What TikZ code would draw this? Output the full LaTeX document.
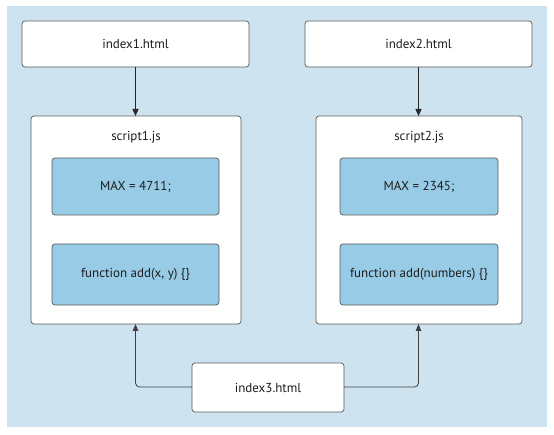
\documentclass[tikz,border=0pt]{standalone}
\usepackage{fontspec}
\setmainfont{PT Sans}
\usetikzlibrary{arrows.meta}
\definecolor{bgblue}{RGB}{205,227,240}
\definecolor{inblue}{RGB}{152,203,230}
\definecolor{edge}{RGB}{90,90,90}
\definecolor{txt}{RGB}{30,30,30}
\begin{document}
\begin{tikzpicture}[x=1pt,y=-1pt,
  box/.style={draw=edge,line width=0.7pt,rounded corners=3pt,fill=white},
  inbox/.style={draw=edge,line width=0.7pt,rounded corners=3pt,fill=inblue},
  lbl/.style={font=\fontsize{13}{15}\selectfont,text=txt},
  conn/.style={draw=black!85,line width=1.2pt,-{Triangle[length=7pt,width=6pt]}},
  elbow/.style={draw=black!75,line width=0.8pt,rounded corners=4pt,-{Triangle[length=7pt,width=5.5pt]}}]
\useasboundingbox (0,0) rectangle (554,435);
\fill[white] (0,0) rectangle (554,435);
\fill[bgblue] (7,6) rectangle (547,427);
% top html boxes
\draw[box] (22,21) rectangle (249,67);
\node[lbl] (i1) at (135.5,44) {index1.html};
\coordinate (i1b) at (135.5,67);
\draw[box] (305,21) rectangle (532,67);
\node[lbl] (i2) at (418.5,44) {index2.html};
\coordinate (i2b) at (418.5,67);
% script boxes
\draw[box] (31,116) rectangle (241,324);
\node[lbl] (s1) at (136,137) {script1.js};
\coordinate (s1t) at (135.5,116);
\coordinate (s1b) at (135.5,324);
\draw[inbox] (52,158) rectangle (219,215);
\node[lbl] (m1) at (135.5,186.5) {MAX = 4711;};
\draw[inbox] (52,244) rectangle (219,305);
\node[lbl] (f1) at (135.5,274.5) {function add(x, y) \{\}};
\draw[box] (316,116) rectangle (522,324);
\node[lbl] (s2) at (419,137) {script2.js};
\coordinate (s2t) at (418.5,116);
\coordinate (s2b) at (418.5,324);
\draw[inbox] (340,158) rectangle (498,215);
\node[lbl] (m2) at (419,186.5) {MAX = 2345;};
\draw[inbox] (340,244) rectangle (498,305);
\node[lbl] (f2) at (419,274.5) {function add(numbers) \{\}};
% index3
\draw[box] (192,363) rectangle (344,412);
\node[lbl] (i3) at (268,387.5) {index3.html};
\coordinate (i3l) at (192,387);
\coordinate (i3r) at (344,387);
% connectors
\draw[conn] (i1b) -- (s1t);
\draw[conn] (i2b) -- (s2t);
\draw[elbow] (i3l) -| (s1b);
\draw[elbow] (i3r) -| (s2b);
\end{tikzpicture}
\end{document}
